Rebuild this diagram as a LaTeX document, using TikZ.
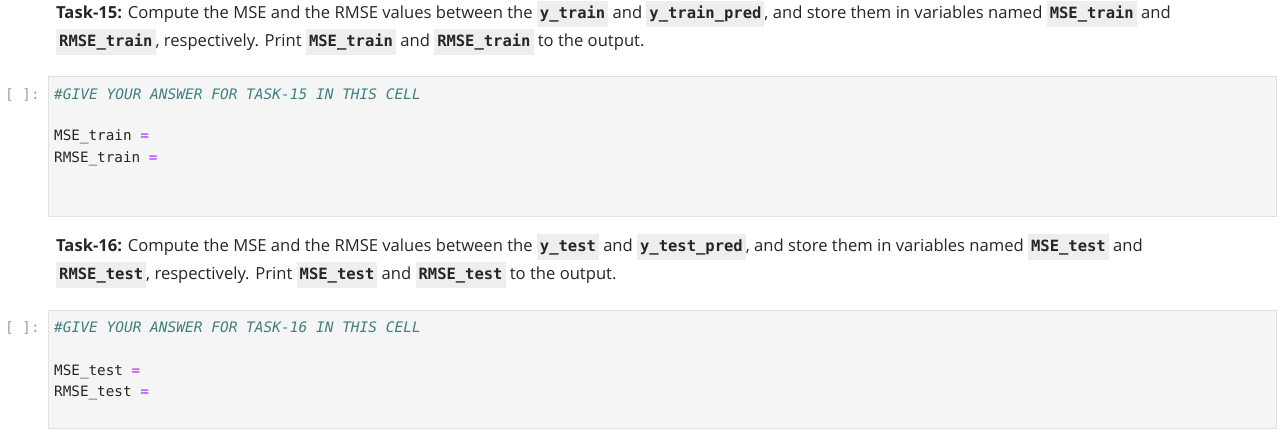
\documentclass[tikz,border=0pt]{standalone}
\usepackage{fontspec}
\setmainfont{Open Sans}
\setmonofont{DejaVu Sans Mono}
\definecolor{chip}{HTML}{EEEEEE}
\definecolor{cellbg}{HTML}{F5F5F5}
\definecolor{cellbd}{HTML}{E0E0E0}
\definecolor{cmt}{HTML}{408080}
\definecolor{op}{HTML}{AA22FF}
\definecolor{prompt}{HTML}{9E9E9E}
\newcommand{\chipc}[1]{{\setlength\fboxsep{3pt}\colorbox{chip}{\strut\fontsize{15.5}{18}\ttfamily\bfseries #1}}}
\begin{document}
\begin{tikzpicture}[x=1pt,y=-1pt,
  prose/.style={anchor=base west,inner sep=0pt,font=\fontsize{16.6}{20}\selectfont,text=black!85},
  code/.style={anchor=base west,inner sep=0pt,font=\fontsize{14.3}{17}\ttfamily,text=black!85},
  comment/.style={anchor=base west,inner sep=0pt,font=\fontsize{14.5}{17}\ttfamily\itshape,text=cmt},
  promptlbl/.style={anchor=base west,inner sep=0pt,font=\fontsize{14.3}{17}\ttfamily,text=prompt},
  cellbox/.style={draw=cellbd,fill=cellbg,line width=0.8pt}]
\useasboundingbox (0,0) rectangle (1287,440);
\fill[white] (0,0) rectangle (1287,440);
\node[prose] (t15a) at (56,18) {\textbf{Task-15:} Compute the MSE and the RMSE values between the \chipc{y\_train} and \chipc{y\_train\_pred}, and store them in variables named \chipc{MSE\_train} and};
\node[prose] (t15b) at (56,46) {\chipc{RMSE\_train}, respectively. Print \chipc{MSE\_train} and \chipc{RMSE\_train} to the output.};
\draw[cellbox] (48,76) rectangle (1276,216);
\node[promptlbl] (p1) at (5,99) {[ ]:};
\node[comment] (c1) at (54,99) {\#GIVE YOUR ANSWER FOR TASK-15 IN THIS CELL};
\node[code] (l1) at (54,140) {MSE\_train \textcolor{op}{=}};
\node[code] (l2) at (54,162) {RMSE\_train \textcolor{op}{=}};
\node[prose] (t16a) at (56,251) {\textbf{Task-16:} Compute the MSE and the RMSE values between the \chipc{y\_test} and \chipc{y\_test\_pred}, and store them in variables named \chipc{MSE\_test} and};
\node[prose] (t16b) at (56,279) {\chipc{RMSE\_test}, respectively. Print \chipc{MSE\_test} and \chipc{RMSE\_test} to the output.};
\draw[cellbox] (48,310) rectangle (1276,428);
\node[promptlbl] (p2) at (5,332) {[ ]:};
\node[comment] (c2) at (54,332) {\#GIVE YOUR ANSWER FOR TASK-16 IN THIS CELL};
\node[code] (l3) at (54,375) {MSE\_test \textcolor{op}{=}};
\node[code] (l4) at (54,396) {RMSE\_test \textcolor{op}{=}};
\end{tikzpicture}
\end{document}
